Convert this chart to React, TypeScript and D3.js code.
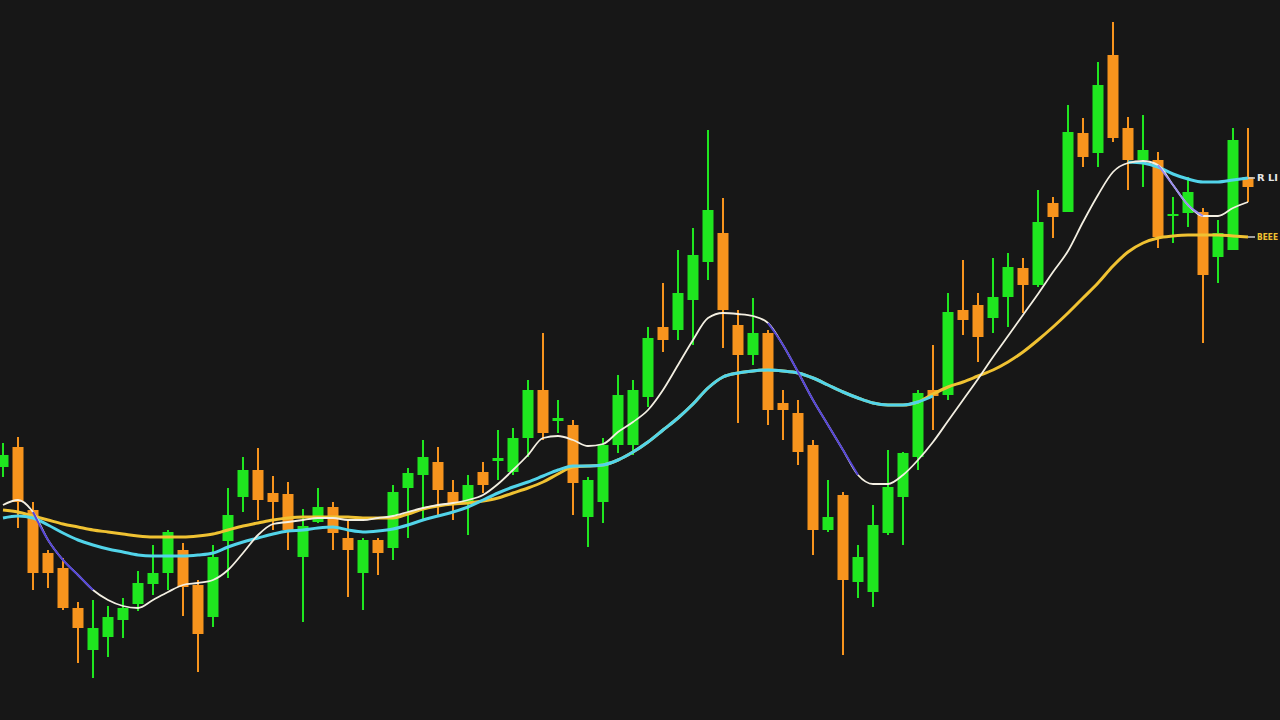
import * as React from 'react';
import { useRef, useEffect } from 'react';
import * as d3 from 'd3';

// candles (oldest on the left)
const opens = [
  163.25, 168.25, 152.5, 141.75, 138, 128, 117.5, 120.75, 125, 129,
  134, 136.75, 142.5, 133.75, 125.75, 144.75, 155.75, 162.5, 156.75, 156.5,
  140.75, 149.5, 153.25, 145.5, 136.75, 145, 143, 158, 161.25, 164.5,
  157, 154.5, 162, 164.75, 162, 170.5, 182.5, 174.75, 173.75, 150.75,
  154.5, 168.75, 168.75, 180.75, 198.25, 197.5, 205, 214.5, 221.75, 198.75,
  191.25, 196.75, 179.25, 176.75, 168.75, 147.5, 156.25, 134.5, 132, 146.75,
  155.75, 165.75, 182.5, 181.25, 202.5, 203.75, 200.5, 205.75, 213, 208.75,
  229.25, 227, 246.75, 241.75, 266.25, 248, 240, 240, 226, 226.75,
  227, 215.75, 217.5, 235.75,
];
const highs = [
  169.25, 170.75, 154.5, 142.5, 140.5, 129.5, 130, 128.5, 130.5, 137.25,
  143.75, 147.5, 144.25, 135, 143.75, 158, 165.75, 168, 161, 159.5,
  152.75, 158, 154.5, 150, 145.5, 145.5, 158.75, 163, 170, 168.25,
  160, 161.25, 164.5, 172.5, 173, 185, 196.75, 180, 175, 160.75,
  170.5, 186.25, 185, 198.25, 209.25, 217.5, 223, 247.5, 230.5, 202.5,
  205.5, 197.5, 182.5, 180, 170, 160, 157, 143.75, 153.75, 167.5,
  167, 182.5, 193.75, 206.75, 215, 206.75, 215.5, 216.75, 215.5, 232.5,
  230.75, 253.75, 250.5, 264.5, 274.5, 250.75, 251.25, 242, 230.75, 235.75,
  228, 225, 248, 248,
];
const lows = [
  160.75, 148, 132.5, 133, 127.5, 114.25, 110.5, 115.75, 120.5, 127.25,
  131.25, 132.5, 126, 112, 123.25, 135.5, 152, 150, 147.5, 142.5,
  124.5, 149.25, 142.5, 130.75, 127.5, 136.25, 140, 145.5, 150, 151.25,
  150, 146.25, 156.75, 160, 161.25, 165.75, 170, 171.75, 151.25, 143.25,
  149.25, 166.75, 166.25, 178.25, 192, 195, 193.75, 210, 193, 174.25,
  188.75, 173.75, 170, 163.75, 141.25, 147, 116.25, 130.5, 128.25, 146.25,
  143.75, 162.5, 172.5, 180, 196.25, 189.5, 196.75, 198.25, 201.75, 208.25,
  220.5, 227, 238.25, 238.25, 244.5, 232.5, 233.25, 218, 219.25, 223.25,
  194.25, 209.25, 217.5, 229.5,
];
const closes = [
  166.25, 154.5, 136.75, 136.75, 128, 123, 123, 125.75, 128, 134.25,
  136.75, 147, 133.25, 121.5, 140.75, 151.25, 162.5, 155, 154.5, 147.5,
  148.5, 153.25, 146.75, 142.5, 145, 141.75, 157, 161.75, 165.75, 157.5,
  154.25, 158.75, 158.75, 165.5, 170.5, 182.5, 171.75, 175.5, 159.25, 160,
  168.75, 181.25, 182.5, 195.5, 195, 206.75, 216.25, 227.5, 202.5, 191.25,
  196.75, 177.5, 177.5, 167, 147.5, 150.75, 135, 140.75, 148.75, 158.25,
  166.75, 181.75, 181, 202, 200, 195.75, 205.75, 213.25, 208.75, 224.5,
  225.75, 247, 240.75, 258.75, 245.5, 240, 242.5, 220.75, 226.5, 232,
  211.25, 221.75, 245, 233.25,
];

// moving averages
const maFast = [
  153.75, 155, 152, 145, 140, 136.25, 132.5, 130, 128.5, 128,
  130, 132, 133.75, 134.25, 135, 137.5, 141.75, 146.25, 149, 149.5,
  150, 150.5, 150.5, 150, 150, 150.5, 151, 152, 153, 153.75,
  154.25, 155, 156.25, 159, 162.5, 166.25, 170.5, 171, 170, 168.5,
  169, 172, 174.5, 177.5, 182.5, 188.75, 195, 200.5, 201.75, 201.5,
  201, 199.25, 193.75, 187, 180, 173.75, 167.5, 161.25, 159, 159,
  161.25, 165, 169.5, 174.75, 180, 185.25, 190.75, 196, 201.25, 206.5,
  212, 217.25, 224.5, 231.25, 237, 239.25, 239.75, 238.75, 233.75, 228.75,
  226, 226, 228, 229.5,
];
const maMid: (number | null)[] = [
  150.5, 151, 150.5, 148.75, 146.75, 145, 143.75, 142.75, 142, 141.25,
  141, 141, 141, 141.25, 141.75, 143.25, 144.5, 145.5, 146.5, 147.25,
  147.5, 148, 148.25, 147.5, 147, 147.25, 147.75, 148.75, 150, 151,
  152, 153.25, 155, 156.75, 158.25, 159.5, 161, 162.5, 163.5, 163.5,
  163.75, 165, 167, 169.5, 172.5, 175.5, 179, 183, 185.75, 186.75,
  187.25, 187.5, 187.25, 186.75, 185.5, 183.75, 182, 180.5, 179.25, 178.75,
  178.75, 179.5, 181, null, null, null, null, null, null, null,
  null, null, null, null, null, 239.5, 239.25, 238.25, 236.5, 235.25,
  234.5, 234.5, 235, 235.5,
];
const maSlow = [
  152.5, 152, 151, 150, 149, 148.25, 147.5, 147, 146.5, 146,
  145.75, 145.75, 145.75, 146, 146.5, 147.5, 148.5, 149.25, 150, 150.5,
  150.75, 150.75, 150.75, 150.75, 150.5, 150.5, 150.5, 151.5, 152.75, 153.5,
  154, 154.25, 154.75, 155.5, 156.75, 158, 159.5, 161.5, 163.25, 163.5,
  163.75, 165, 167, 169.5, 172.5, 175.5, 179, 183, 185.75, 186.75,
  187.25, 187.5, 187.25, 186.75, 185.5, 183.75, 182, 180.5, 179.25, 178.75,
  178.75, 179.5, 181.5, 183.25, 184.5, 186, 187.5, 189.5, 192, 195,
  198.25, 201.75, 205.5, 209.25, 213.5, 217, 219.25, 220.5, 221, 221.25,
  221.25, 221.25, 221, 220.75,
];
// stretches where the fast line turns down (drawn in violet)
const fastDownRanges = [[2, 6], [51, 57], [77, 80]];
const fastDownColors = ['#5545d6', '#5545d6', '#9a8cf0'];

const midLabel = 'R LI';
const slowLabel = 'BEEE';

const W = 1280;
const H = 720;

const App: React.FC = () => {
  const svgRef = useRef<SVGSVGElement>(null);

  useEffect(() => {
    if (!svgRef.current) return;
    const svg = d3.select(svgRef.current);
    svg.selectAll('*').remove();

    const n = opens.length;
    const idx = d3.range(n);

    const x = d3.scalePoint<number>().domain(idx).range([3, 1248]);
    const y = d3.scaleLinear().domain([100, 280]).range([H, 0]);
    const bodyW = 11;

    const green = '#1fe61f';
    const orange = '#f7941d';

    svg.append('rect').attr('width', W).attr('height', H).attr('fill', '#171717');

    const candles = svg.append('g');
    const g = candles.selectAll('g.candle')
      .data(idx)
      .enter()
      .append('g')
      .attr('class', 'candle');

    const col = (i: number) => (closes[i] >= opens[i] ? green : orange);

    g.append('line')
      .attr('x1', i => x(i)!)
      .attr('x2', i => x(i)!)
      .attr('y1', i => y(highs[i]))
      .attr('y2', i => y(lows[i]))
      .attr('stroke', col)
      .attr('stroke-width', 2);

    g.append('rect')
      .attr('x', i => x(i)! - bodyW / 2)
      .attr('y', i => y(Math.max(opens[i], closes[i])))
      .attr('width', bodyW)
      .attr('height', i => Math.max(2, Math.abs(y(opens[i]) - y(closes[i]))))
      .attr('fill', col);

    const line = (arr: (number | null)[]) =>
      d3.line<number>()
        .defined(i => arr[i] != null)
        .x(i => x(i)!)
        .y(i => y(arr[i] as number))
        .curve(d3.curveMonotoneX)(idx);

    // slow (yellow) under mid (cyan)
    svg.append('path')
      .attr('d', line(maSlow))
      .attr('fill', 'none')
      .attr('stroke', '#f0c232')
      .attr('stroke-width', 3);

    svg.append('path')
      .attr('d', line(maMid))
      .attr('fill', 'none')
      .attr('stroke', '#52d4ea')
      .attr('stroke-width', 3);

    svg.append('path')
      .attr('d', line(maFast))
      .attr('fill', 'none')
      .attr('stroke', '#f3efe2')
      .attr('stroke-width', 1.8);

    fastDownRanges.forEach(([a, b], k) => {
      const seg = d3.range(a, b + 1);
      const path = d3.line<number>()
        .x(i => x(i)!)
        .y(i => y(maFast[i]))
        .curve(d3.curveMonotoneX)(seg);
      svg.append('path')
        .attr('d', path)
        .attr('fill', 'none')
        .attr('stroke', fastDownColors[k])
        .attr('stroke-width', 2);
    });

    // price tags at the right edge
    const last = n - 1;
    const tags = [
      { v: maMid[last] as number, text: midLabel, color: '#e6e6e6' },
      { v: maSlow[last], text: slowLabel, color: '#f0c232' },
    ];
    tags.forEach(t => {
      svg.append('line')
        .attr('x1', x(last)!)
        .attr('x2', x(last)! + 7)
        .attr('y1', y(t.v))
        .attr('y2', y(t.v))
        .attr('stroke', '#cfcfcf')
        .attr('stroke-width', 1.5);
      svg.append('text')
        .attr('x', x(last)! + 9)
        .attr('y', y(t.v))
        .attr('dy', '0.35em')
        .attr('font-family', 'DejaVu Sans, sans-serif')
        .attr('font-size', '8px')
        .attr('font-weight', 'bold')
        .attr('textLength', 21)
        .attr('lengthAdjust', 'spacingAndGlyphs')
        .attr('fill', t.color)
        .text(t.text);
    });
  }, []);

  return (
    <svg
      ref={svgRef}
      width={W}
      height={H}
      style={{ position: 'fixed', left: 0, top: 0, display: 'block' }}
    />
  );
};

export default App;
